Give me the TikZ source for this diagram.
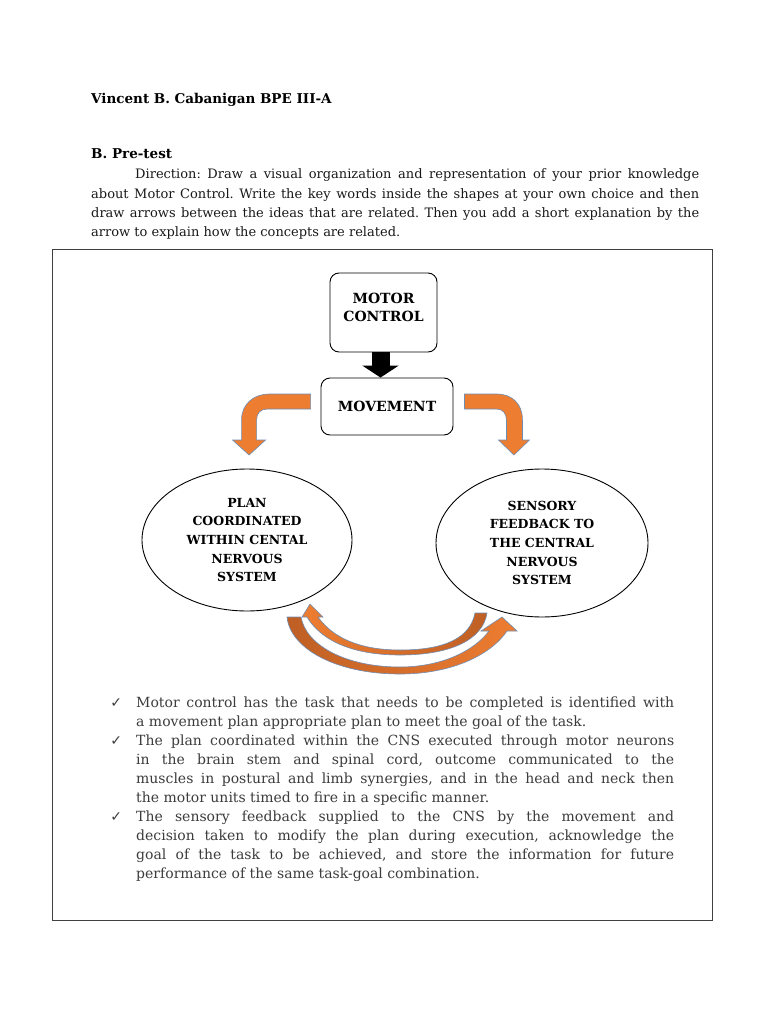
\documentclass[tikz,border=0pt]{standalone}
\usepackage{fontspec}
\setmainfont{DejaVu Serif}
\newfontfamily\checkfont{DejaVu Sans}
\usetikzlibrary{shapes.geometric,arrows.meta}
\definecolor{bendorange}{HTML}{ED7D31}
\definecolor{darkorange}{HTML}{BF5F24}
\definecolor{arrowedge}{HTML}{6F8DB3}
\definecolor{bodygray}{HTML}{3C3C3C}
\newcommand{\tick}{\leavevmode\llap{{\checkfont ✓}\hspace{14pt}}}
\frenchspacing

\begin{document}
\begin{tikzpicture}[x=1pt,y=-1pt]
    \tikzstyle{every node}+=[inner sep=0pt]
    \tikzstyle{conceptbox}=[draw, rounded corners=9pt, line width=0.9pt, align=center, font=\bfseries\fontsize{14}{18}\selectfont]
    \tikzstyle{concept}=[draw, ellipse, line width=0.9pt, align=center, font=\bfseries\fontsize{12.5}{18.7}\selectfont]
    \tikzstyle{bendarrow}=[fill=bendorange, draw=arrowedge, line width=0.6pt]
    \tikzstyle{swingarrow}=[draw=arrowedge, line width=0.6pt]
    \tikzstyle{para}=[anchor=base west, align=justify, font=\fontsize{13}{19.3}\selectfont]
    \fill [white] (0,0) rectangle (768,1024);
    \useasboundingbox (0,0) rectangle (768,1024);
    % heading
    \node [anchor=base west, font=\bfseries\fontsize{13.5}{16}\selectfont] (author) at (91,104) {Vincent B. Cabanigan BPE III-A};
    \node [anchor=base west, font=\bfseries\fontsize{13.5}{16}\selectfont] (pretest) at (91,159) {B. Pre-test};
    \node [para, text width=608pt, text=black!90] (direction) at (91,179) {\hspace*{44pt}Direction: Draw a visual organization and representation of your prior knowledge\linebreak
    about Motor Control. Write the key words inside the shapes at your own choice and then\linebreak
    draw arrows between the ideas that are related. Then you add a short explanation by the\linebreak
    arrow to explain how the concepts are related.};
    \draw [line width=1pt, black!75] (52,249) rectangle (712,920);
    % boxes and ellipses
    \node [conceptbox, minimum width=107pt, minimum height=79pt, text depth=10pt] (motor) at (383.5,312.5) {MOTOR\\CONTROL};
    \node [conceptbox, minimum width=132pt, minimum height=57pt] (movement) at (387,406.5) {MOVEMENT};
    \node [concept, minimum width=210pt, minimum height=142pt] (plan) at (247,540) {PLAN\\COORDINATED\\WITHIN CENTAL\\NERVOUS\\SYSTEM};
    \node [concept, minimum width=212pt, minimum height=148pt] (sensory) at (542,543) {SENSORY\\FEEDBACK TO\\THE CENTRAL\\NERVOUS\\SYSTEM};
    % arrows
    \draw [line width=18pt, -{Triangle[length=12pt,width=36pt]}] ([xshift=-3pt]motor.south) -- ([xshift=-3pt]motor.south |- movement.north);
    \begin{scope}[shift={(movement.west)}]
    \draw [bendarrow] (-10,-12.5) -- (-51,-12.5) .. controls (-67,-12.5) and (-79,-2.5) .. (-79,13.5) -- (-79,33.5) -- (-88,33.5) -- (-71.5,48.5) -- (-55,33.5) -- (-64,33.5) -- (-64,13.5) .. controls (-64,6.5) and (-60,2.5) .. (-53,2.5) -- (-10,2.5) -- cycle;
    \end{scope}
    \begin{scope}[shift={(movement.east)}]
    \draw [bendarrow] (11,-12.5) -- (43,-12.5) .. controls (59,-12.5) and (69,-2.5) .. (69,13.5) -- (69,33.5) -- (76,33.5) -- (60.5,48.5) -- (45,33.5) -- (53,33.5) -- (53,13.5) .. controls (53,6.5) and (49,2.5) .. (43,2.5) -- (11,2.5) -- cycle;
    \end{scope}
    \shadedraw [swingarrow, left color=darkorange, right color=bendorange] (287,617) .. controls (290,648) and (335,674) .. (400,674) .. controls (450,674) and (490,656) .. (507,631) -- (517,631) -- (502,617) -- (481,631) -- (489,631) .. controls (473,652) and (440,667) .. (400,667) .. controls (345,667) and (306,645) .. (301,617) -- cycle;
    \shadedraw [swingarrow, left color=bendorange, right color=darkorange] (487,613) .. controls (483,640) and (450,655) .. (400,655) .. controls (355,655) and (322,642) .. (307,617) -- (302,617) -- (310,604) -- (323,617) -- (318,617) .. controls (333,638) and (360,650) .. (400,650) .. controls (445,650) and (470,638) .. (475,613) -- cycle;
    % explanation
    \node [para, text width=538pt, text=bodygray, font=\fontsize{14}{19.1}\selectfont] (notes) at (136,707) {\tick Motor control has the task that needs to be completed is identified with\linebreak
    a movement plan appropriate plan to meet the goal of the task.\par
    \tick The plan coordinated within the CNS executed through motor neurons\linebreak
    in the brain stem and spinal cord, outcome communicated to the\linebreak
    muscles in postural and limb synergies, and in the head and neck then\linebreak
    the motor units timed to fire in a specific manner.\par
    \tick The sensory feedback supplied to the CNS by the movement and\linebreak
    decision taken to modify the plan during execution, acknowledge the\linebreak
    goal of the task to be achieved, and store the information for future\linebreak
    performance of the same task-goal combination.};
\end{tikzpicture}
\end{document}
